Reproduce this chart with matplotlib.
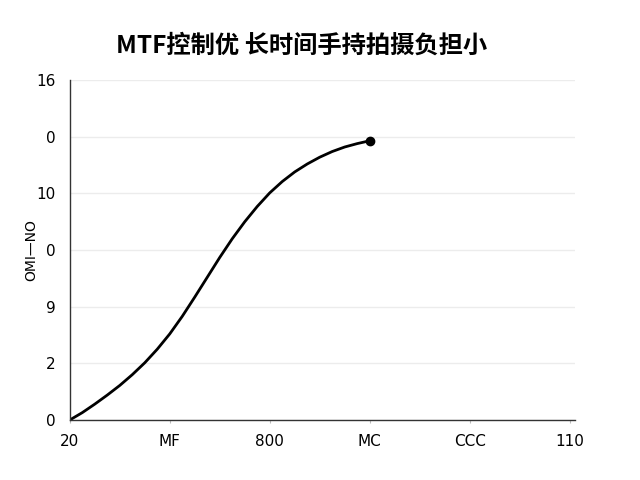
import matplotlib
matplotlib.use('Agg')
import matplotlib.pyplot as plt

plt.rcParams['font.family'] = ['DejaVu Sans', 'Noto Sans CJK SC']

# curve
x_vals = [0, 0.125, 0.25, 0.375, 0.5, 0.625, 0.75, 0.875, 1.0, 1.125, 1.25, 1.375,
          1.5, 1.625, 1.75, 1.875, 2.0, 2.125, 2.25, 2.375, 2.5, 2.625, 2.75, 2.875, 3.0]
y_vals = [0, 0.13, 0.28, 0.44, 0.61, 0.80, 1.01, 1.25, 1.52, 1.83, 2.17, 2.52,
          2.87, 3.20, 3.50, 3.77, 4.01, 4.21, 4.38, 4.52, 4.64, 4.74, 4.82, 4.88, 4.93]

x_ticklabels = ['20', 'MF', '800', 'MC', 'CCC', '110']
y_ticklabels = ['0', '2', '9', '0', '10', '0', '16']

title = 'MTF控制优 长时间手持拍摄负担小'
ylabel = 'OMI—NO'

fig = plt.figure(figsize=(6.4, 4.8), dpi=100)
ax = fig.add_axes([0.109, 0.125, 0.789, 0.708])

ax.plot(x_vals, y_vals, color='black', linewidth=2, solid_joinstyle='round',
        marker='o', markersize=6, markevery=[-1])

ax.set_xlim(0, 5.05)
ax.set_ylim(0, 6)
ax.set_xticks(range(6))
ax.set_xticklabels(x_ticklabels, fontsize=11)
ax.set_yticks(range(7))
ax.set_yticklabels(y_ticklabels, fontsize=11)
ax.tick_params(axis='y', length=0, pad=10)
ax.tick_params(axis='x', length=2, pad=8, color='#bbbbbb')

ax.grid(axis='y', color='#ececec', linewidth=1)
ax.set_axisbelow(True)
for s in ['top', 'right']:
    ax.spines[s].set_visible(False)
for s in ['left', 'bottom']:
    ax.spines[s].set_color('#333333')
    ax.spines[s].set_linewidth(1)

ax.set_ylabel(ylabel, fontsize=10)
ax.yaxis.set_label_coords(-0.063, 0.5)

fig.text(0.471, 0.905, title, ha='center', va='center', fontsize=17.5, fontweight='bold',
         family=['Noto Sans CJK SC', 'DejaVu Sans'])

fig.savefig('out.png', dpi=100, facecolor='white')
